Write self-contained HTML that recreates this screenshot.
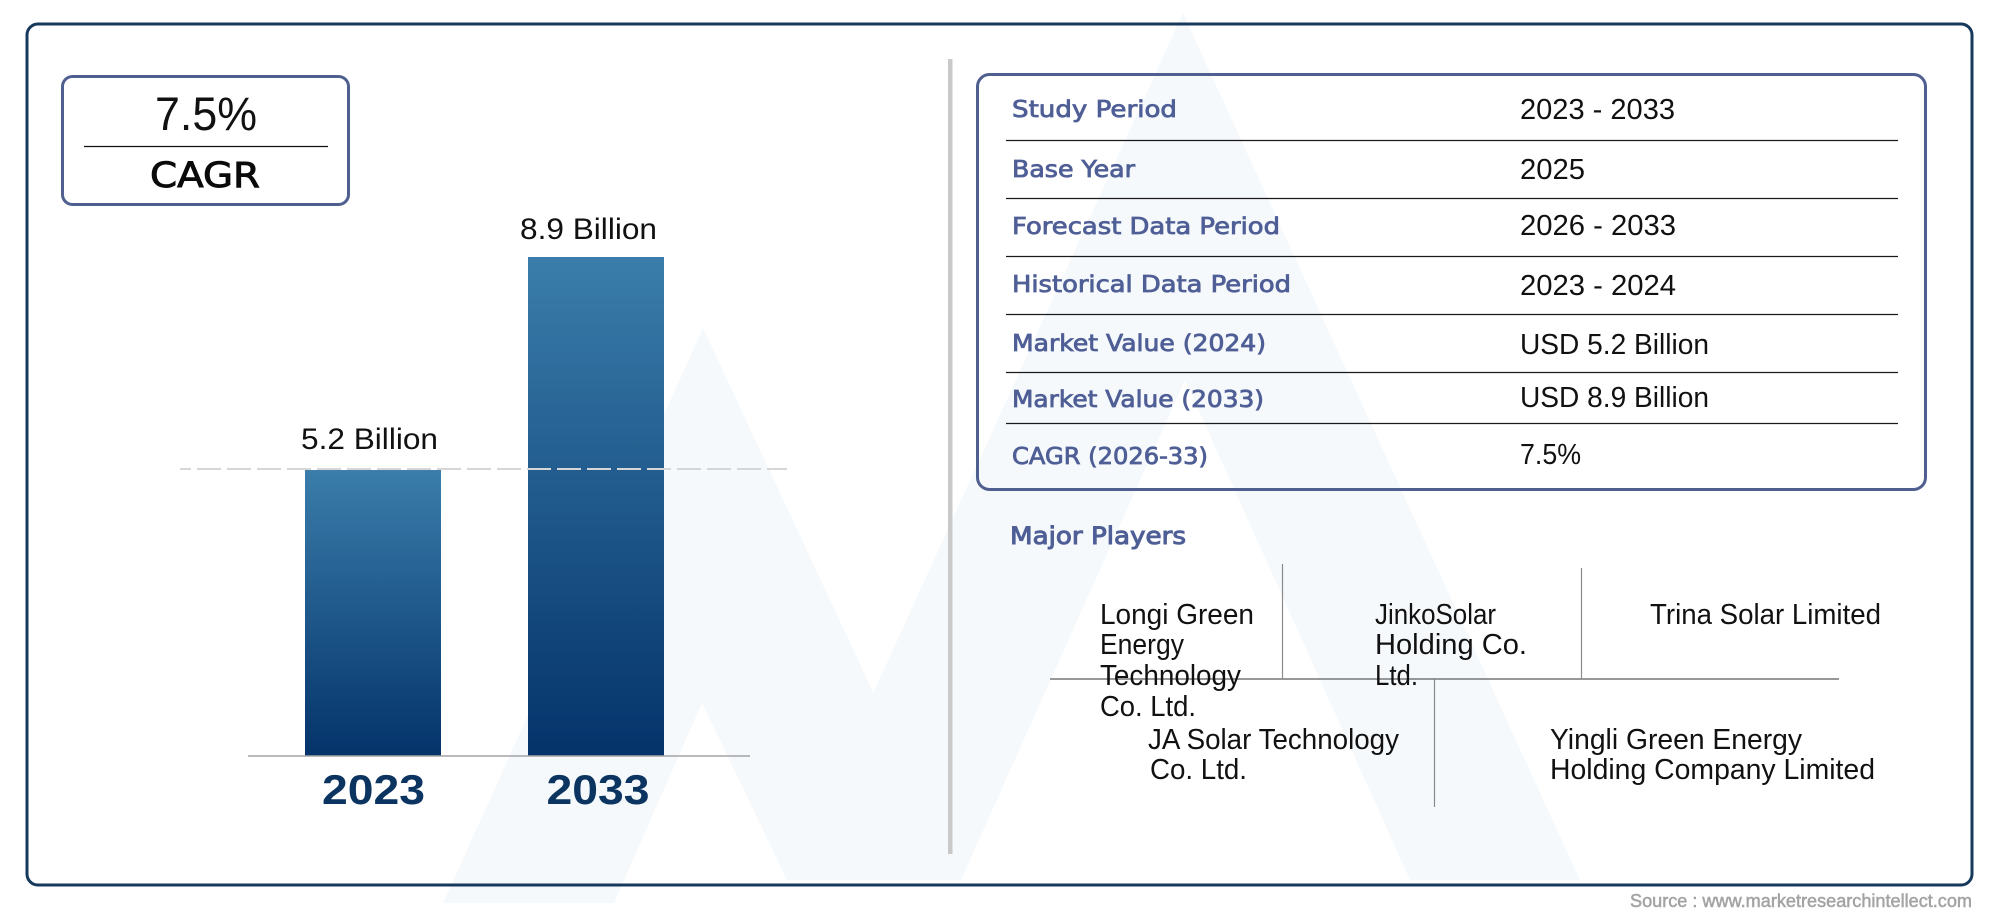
<!DOCTYPE html>
<html lang="en">
<head>
<meta charset="utf-8">
<title>Market Size Infographic</title>
<style>
html,body{margin:0;padding:0;background:#fff;width:2000px;height:917px;overflow:hidden}
svg{display:block}
text{font-family:"Liberation Sans",sans-serif}
.lbl{font-family:"DejaVu Sans","Liberation Sans",sans-serif;font-size:23px;fill:#4f5f96;stroke:#4f5f96;stroke-width:.8px}
.val{font-size:29px;fill:#111}
.ply{font-size:29px;fill:#111}
</style>
</head>
<body>
<svg id="root" xmlns="http://www.w3.org/2000/svg" width="2000" height="917" viewBox="0 0 2000 917">
  <defs>
    <linearGradient id="barGrad" x1="0" y1="0" x2="0" y2="1">
      <stop offset="0" stop-color="#3a7dab"/>
      <stop offset="1" stop-color="#04336a"/>
    </linearGradient>
  </defs>

  <g fill="#f6f9fc">
    <polygon points="703,328 961,880 787,880 702,703 614,903 443,903"/>
    <polygon points="1183,13 1580,880 1410,880 1185,380 961,880 788,880"/>
  </g>

  <rect x="27" y="24" width="1945" height="861" rx="11" fill="none" stroke="#17395c" stroke-width="3"/>

  <g>
    <rect x="62.5" y="76.5" width="286" height="128" rx="10" fill="#fff" fill-opacity="0.6" stroke="#4f5f8f" stroke-width="3"/>
    <text x="155" y="130" font-size="47" fill="#111" textLength="102" lengthAdjust="spacingAndGlyphs">7.5%</text>
    <line x1="84" y1="146.5" x2="328" y2="146.5" stroke="#111" stroke-width="1.3"/>
    <text x="150" y="187" font-size="35" fill="#0a0a0a" stroke="#0a0a0a" stroke-width=".9" style="font-family:'DejaVu Sans','Liberation Sans',sans-serif" textLength="110" lengthAdjust="spacingAndGlyphs">CAGR</text>
  </g>

  <g id="chart"></g>

  <rect x="948" y="59" width="4.5" height="795" fill="#c9c9c9"/>

  <g>
    <rect x="977.5" y="74.5" width="948" height="415" rx="12" fill="none" stroke="#4f5f8f" stroke-width="3"/>
    <g stroke="#1a1a1a" stroke-width="1.3">
      <line x1="1006" y1="140.5" x2="1898" y2="140.5"/>
      <line x1="1006" y1="198.5" x2="1898" y2="198.5"/>
      <line x1="1006" y1="256.5" x2="1898" y2="256.5"/>
      <line x1="1006" y1="314.5" x2="1898" y2="314.5"/>
      <line x1="1006" y1="372.5" x2="1898" y2="372.5"/>
      <line x1="1006" y1="423.5" x2="1898" y2="423.5"/>
    </g>
    <text class="lbl" x="1012" y="117" textLength="165" lengthAdjust="spacingAndGlyphs">Study Period</text>
    <text class="val" x="1520" y="119" textLength="155" lengthAdjust="spacingAndGlyphs">2023 - 2033</text>
    <text class="lbl" x="1012" y="177" textLength="123" lengthAdjust="spacingAndGlyphs">Base Year</text>
    <text class="val" x="1520" y="179" textLength="65" lengthAdjust="spacingAndGlyphs">2025</text>
    <text class="lbl" x="1012" y="234" textLength="268" lengthAdjust="spacingAndGlyphs">Forecast Data Period</text>
    <text class="val" x="1520" y="235" textLength="156" lengthAdjust="spacingAndGlyphs">2026 - 2033</text>
    <text class="lbl" x="1012" y="292" textLength="279" lengthAdjust="spacingAndGlyphs">Historical Data Period</text>
    <text class="val" x="1520" y="295" textLength="156" lengthAdjust="spacingAndGlyphs">2023 - 2024</text>
    <text class="lbl" x="1012" y="351" textLength="254" lengthAdjust="spacingAndGlyphs">Market Value (2024)</text>
    <text class="val" x="1520" y="354" textLength="189" lengthAdjust="spacingAndGlyphs">USD 5.2 Billion</text>
    <text class="lbl" x="1012" y="407" textLength="252" lengthAdjust="spacingAndGlyphs">Market Value (2033)</text>
    <text class="val" x="1520" y="407" textLength="189" lengthAdjust="spacingAndGlyphs">USD 8.9 Billion</text>
    <text class="lbl" x="1012" y="464" textLength="196" lengthAdjust="spacingAndGlyphs">CAGR (2026-33)</text>
    <text class="val" x="1520" y="464" textLength="61" lengthAdjust="spacingAndGlyphs">7.5%</text>
  </g>

  <g>
    <text class="lbl" x="1010" y="544" style="font-size:24px;stroke-width:1px" textLength="176" lengthAdjust="spacingAndGlyphs">Major Players</text>
    <g stroke="#8a8a8a" stroke-width="1.2">
      <line x1="1282.5" y1="564" x2="1282.5" y2="678"/>
      <line x1="1581.5" y1="568" x2="1581.5" y2="678"/>
      <line x1="1434.5" y1="679" x2="1434.5" y2="807"/>
      <line x1="1050" y1="679" x2="1839" y2="679" stroke-width="1.4" stroke="#777"/>
    </g>
    <g>
      <text class="ply" x="1100" y="624" textLength="154" lengthAdjust="spacingAndGlyphs">Longi Green</text>
      <text class="ply" x="1100" y="654" textLength="84" lengthAdjust="spacingAndGlyphs">Energy</text>
      <text class="ply" x="1100" y="685" textLength="141" lengthAdjust="spacingAndGlyphs">Technology</text>
      <text class="ply" x="1100" y="716" textLength="96" lengthAdjust="spacingAndGlyphs">Co. Ltd.</text>
    </g>
    <g>
      <text class="ply" x="1375" y="624" textLength="121" lengthAdjust="spacingAndGlyphs">JinkoSolar</text>
      <text class="ply" x="1375" y="654" textLength="152" lengthAdjust="spacingAndGlyphs">Holding Co.</text>
      <text class="ply" x="1375" y="685" textLength="43" lengthAdjust="spacingAndGlyphs">Ltd.</text>
    </g>
    <text class="ply" x="1650" y="624" textLength="231" lengthAdjust="spacingAndGlyphs">Trina Solar Limited</text>
    <g>
      <text class="ply" x="1148" y="749" textLength="251" lengthAdjust="spacingAndGlyphs">JA Solar Technology</text>
      <text class="ply" x="1150" y="779" textLength="97" lengthAdjust="spacingAndGlyphs">Co. Ltd.</text>
    </g>
    <g>
      <text class="ply" x="1550" y="749" textLength="252" lengthAdjust="spacingAndGlyphs">Yingli Green Energy</text>
      <text class="ply" x="1550" y="779" textLength="325" lengthAdjust="spacingAndGlyphs">Holding Company Limited</text>
    </g>
  </g>

  <text x="1630" y="907" font-size="18" fill="#a3a3a3" stroke="#a3a3a3" stroke-width=".5" textLength="342" lengthAdjust="spacingAndGlyphs">Source : www.marketresearchintellect.com</text>
</svg>
<script>
const categories = ['2023', '2033'];
const values = [5.2, 8.9];
const valueUnit = ' Billion';

const NS = 'http://www.w3.org/2000/svg';
const chart = document.getElementById('chart');
const plot = { left: 305, bandStep: 223, barWidth: 136, baseline: 756, top: 257, axisLeft: 248, axisRight: 750 };
const domainMin = 0.233;
const domainMax = 8.9;

function xScale(i) { return plot.left + i * plot.bandStep; }
function yScale(v) { return plot.baseline - (v - domainMin) / (domainMax - domainMin) * (plot.baseline - plot.top); }

categories.forEach(function (cat, i) {
  const x = xScale(i);
  const y = yScale(values[i]);
  const bar = document.createElementNS(NS, 'rect');
  
  
  bar.setAttribute('x', x);
  bar.setAttribute('y', y);
  bar.setAttribute('width', plot.barWidth);
  bar.setAttribute('height', plot.baseline - y);
  bar.setAttribute('fill', 'url(#barGrad)');
  chart.appendChild(bar);

  const label = document.createElementNS(NS, 'text');
  
  
  label.setAttribute('x', x - 4 - 4 * i);
  label.setAttribute('y', y - 21 + 3 * i);
  label.setAttribute('font-size', '30');
  label.setAttribute('fill', '#111');
  label.setAttribute('textLength', '137');
  label.setAttribute('lengthAdjust', 'spacingAndGlyphs');
  label.textContent = values[i].toFixed(1) + valueUnit;
  chart.appendChild(label);

  const tick = document.createElementNS(NS, 'text');
  
  
  tick.setAttribute('x', x + 17 + 1.5 * i);
  tick.setAttribute('y', 804);
  tick.setAttribute('font-size', '42');
  tick.setAttribute('font-weight', 'bold');
  tick.setAttribute('fill', '#0b3560');
  tick.setAttribute('textLength', '103');
  tick.setAttribute('lengthAdjust', 'spacingAndGlyphs');
  tick.textContent = cat;
  chart.appendChild(tick);
});

const axis = document.createElementNS(NS, 'line');


axis.setAttribute('x1', plot.axisLeft);
axis.setAttribute('x2', plot.axisRight);
axis.setAttribute('y1', plot.baseline);
axis.setAttribute('y2', plot.baseline);
axis.setAttribute('stroke', '#a3a3a3');
axis.setAttribute('stroke-width', '1.5');
chart.appendChild(axis);

const refY = yScale(values[0]) - 1;
const refLine = document.createElementNS(NS, 'line');


refLine.setAttribute('x1', 180);
refLine.setAttribute('x2', 787);
refLine.setAttribute('y1', refY);
refLine.setAttribute('y2', refY);
refLine.setAttribute('stroke', '#d6d6d6');
refLine.setAttribute('stroke-width', '2');
refLine.setAttribute('stroke-dasharray', '24 6');
refLine.setAttribute('stroke-dashoffset', '13');
chart.appendChild(refLine);
</script>
</body>
</html>
